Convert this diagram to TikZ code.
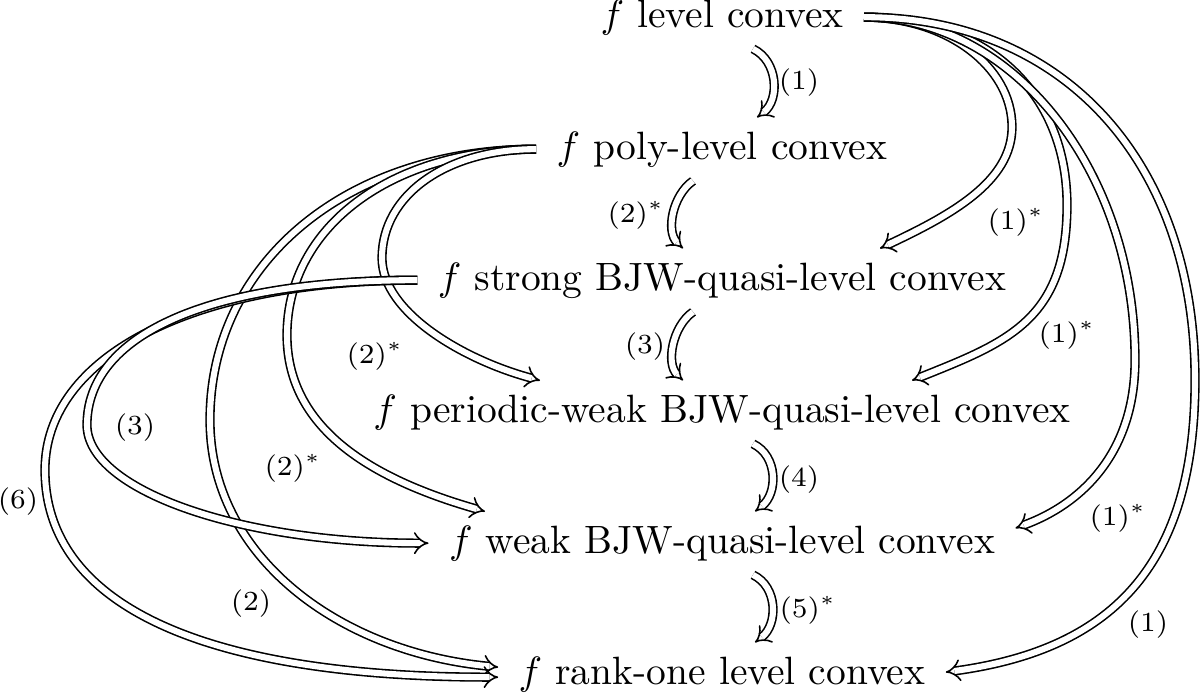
\documentclass[tikz,border=0pt]{standalone}
\usetikzlibrary{arrows.meta,calc}
\begin{document}
\begin{tikzpicture}[x=0.2532pt,y=-0.2532pt,
  cell/.style={anchor=base, inner xsep=5pt, inner ysep=3.33pt, text height=7pt, text depth=2pt},
  imp/.style={double, double equal sign distance, line width=0.4pt, -{Implies}},
  lbl/.style={font=\scriptsize, inner sep=0pt}]
\useasboundingbox (0,0) rectangle (1200,694);
\node[cell] (A) at (722,27) {$f$ level convex};
\node[cell] (B) at (722,159) {$f$ poly-level convex};
\node[cell] (C) at (722,290) {$f$ strong BJW-quasi-level convex};
\node[cell] (D) at (722,422) {$f$ periodic-weak BJW-quasi-level convex};
\node[cell] (E) at (722,553) {$f$ weak BJW-quasi-level convex};
\node[cell] (F) at (722,684) {$f$ rank-one level convex};
% waypoints
\coordinate (wAC) at (1012,127);
\coordinate (wAD) at (1067,205);
\coordinate (wAE) at (1135,360);
\coordinate (wAF) at (1195,380);
\coordinate (wBD) at (382,258);
\coordinate (wBE) at (287,335);
\coordinate (wBF) at (210,420);
\coordinate (wCE) at (87,425);
\coordinate (wCF) at (45,470);
% short arrows
\draw[imp] ($(A.south)+(31,0)$) .. controls +(25,12) and +(23,-18) .. ($(B.north)+(35,0)$);
\draw[imp] ($(B.south)+(-29,0)$) .. controls +(-21,15) and +(-17,-17) .. ($(C.north)+(-39,0)$);
\draw[imp] ($(C.south)+(-29,0)$) .. controls +(-21,15) and +(-17,-17) .. ($(D.north)+(-39,0)$);
\draw[imp] ($(D.south)+(31,0)$) .. controls +(25,12) and +(23,-18) .. ($(E.north)+(33,0)$);
\draw[imp] ($(E.south)+(31,0)$) .. controls +(25,12) and +(23,-18) .. ($(F.north)+(33,0)$);
% from A
\draw[imp] (A.east) .. controls +(82,0) and +(0,-61) .. (wAC) .. controls +(0,55) and +(70,-33) .. ($(C.north)+(158,0)$);
\draw[imp] (A.east) .. controls +(122,0) and +(0,-113) .. (wAD) .. controls +(0,115) and +(95,-38) .. ($(D.north)+(190,0)$);
\draw[imp] (A.east) .. controls +(150,0) and +(0,-189) .. (wAE) .. controls +(0,93) and +(66,-24) .. ($(E.east)+(0,-15)$);
\draw[imp] (A.east) .. controls +(200,0) and +(0,-218) .. (wAF) .. controls +(0,190) and +(162,-22) .. ($(F.east)+(0,-2)$);
% from B
\draw[imp] (B.west) .. controls +(-190,0) and +(0,-157) .. (wBF) .. controls +(0,136) and +(-160,-15) .. ($(F.west)+(0,-7)$);
\draw[imp] (B.west) .. controls +(-145,0) and +(0,-108) .. (wBE) .. controls +(0,98) and +(-105,-30) .. ($(E.north)+(-237,0)$);
\draw[imp] (B.west) .. controls +(-90,0) and +(0,-63) .. (wBD) .. controls +(0,55) and +(-75,-20) .. ($(D.north)+(-182,0)$);
% from C
\draw[imp] (C.west) .. controls +(-224,0) and +(0,-114) .. (wCF) .. controls +(0,135) and +(-295,0) .. ($(F.west)+(0,3)$);
\draw[imp] (C.west) .. controls +(-210,0) and +(0,-90) .. (wCE) .. controls +(0,65) and +(-189,0) .. (E.west);
% labels
\node[lbl] (l1) at (799,83) {$(1)$};
\node[lbl] (l2) at (636,215) {$(2)^*$};
\node[lbl] (l3) at (645,347) {$(3)$};
\node[lbl] (l4) at (799,480) {$(4)$};
\node[lbl] (l5) at (808,610) {$(5)^*$};
\node[lbl] (lAC) at (1016,222) {$(1)^*$};
\node[lbl] (lAD) at (1067,335) {$(1)^*$};
\node[lbl] (lAE) at (1118,518) {$(1)^*$};
\node[lbl] (lAF) at (1148,625) {$(1)$};
\node[lbl] (lBD) at (375,356) {$(2)^*$};
\node[lbl] (lBE) at (293,468) {$(2)^*$};
\node[lbl] (lBF) at (251,604) {$(2)$};
\node[lbl] (lCE) at (135,428) {$(3)$};
\node[lbl] (lCF) at (18,502) {$(6)$};
\end{tikzpicture}
\end{document}
